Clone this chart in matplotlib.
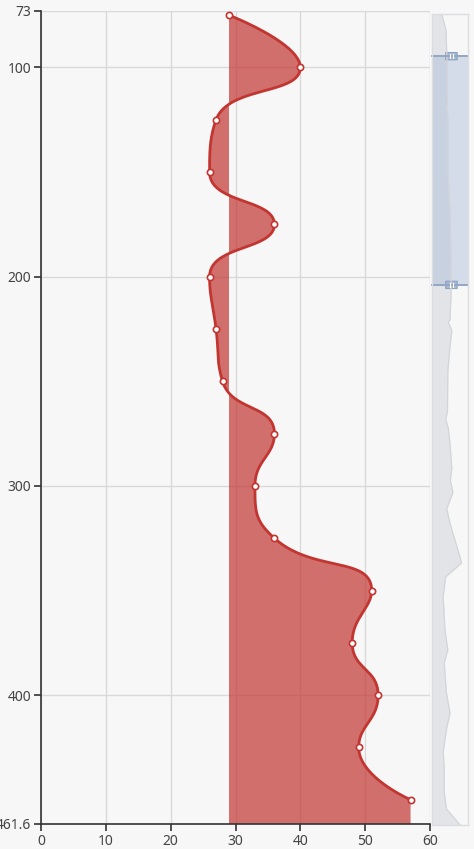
import matplotlib
matplotlib.use("Agg")
import matplotlib.pyplot as plt
import numpy as np
from matplotlib.patches import FancyBboxPatch, Rectangle

# main series: value (x) at each depth (y)
depth = [75, 100, 125, 150, 175, 200, 225, 250, 275, 300, 325, 350, 375, 400, 425, 450]
value = [29, 40, 27, 26, 36, 26, 27, 28, 36, 33, 36, 51, 48, 52, 49, 57]

y_min, y_max = 73, 461.6
y_ticks = [73, 100, 200, 300, 400, 461.6]
y_tick_labels = ["73", "100", "200", "300", "400", "461.6"]
x_ticks = [0, 10, 20, 30, 40, 50, 60]

# data shadow in the zoom slider: position down the slider (0..1), width in percent
shadow_pos = [0.0, 0.02, 0.048, 0.11, 0.115, 0.125, 0.19, 0.245, 0.307, 0.344, 0.377,
              0.38, 0.39, 0.41, 0.44, 0.49, 0.50, 0.51, 0.53, 0.56, 0.575, 0.59, 0.61,
              0.628, 0.67, 0.677, 0.694, 0.718, 0.76, 0.784, 0.80, 0.837, 0.862, 0.88,
              0.91, 0.93, 0.96, 0.98, 1.0]
shadow_pct = [27, 39, 41, 43, 40, 44, 44, 50, 53, 53, 50,
              45, 55, 50, 44, 43, 38, 45, 50, 55, 51, 58, 41,
              50, 78, 82, 38, 31, 36, 44, 34, 40, 50, 41,
              31, 34, 34, 40, 78]
window = (0.052, 0.334)

RED = "#c23531"
AXIS = "#333333"
GRID = "#d9d9d9"
BG = "#f7f7f7"


def smooth_curve(px, py, smooth=0.5, n=40):
    # echarts-style bezier smoothing (with extreme constraint), in display space
    pts = np.column_stack([px, py])
    out = [pts[0]]
    cp0 = pts[0].copy()
    t = np.linspace(0, 1, n)[1:, None]
    for i in range(1, len(pts)):
        p = pts[i]
        prev = pts[i - 1]
        if i == len(pts) - 1:
            cp1 = p.copy()
            next_cp0 = p.copy()
        else:
            nxt = pts[i + 1]
            v = nxt - prev
            len_prev = np.hypot(*(p - prev))
            len_next = np.hypot(*(nxt - p))
            ratio = len_next / (len_next + len_prev)
            next_cp0 = p + v * smooth * ratio
            next_cp0 = np.minimum(next_cp0, np.maximum(nxt, p))
            next_cp0 = np.maximum(next_cp0, np.minimum(nxt, p))
            v = next_cp0 - p
            cp1 = p - v * len_prev / len_next
            cp1 = np.minimum(cp1, np.maximum(prev, p))
            cp1 = np.maximum(cp1, np.minimum(prev, p))
            v = p - cp1
            next_cp0 = p + v * len_next / len_prev
        seg = ((1 - t) ** 3) * prev + 3 * ((1 - t) ** 2) * t * cp0 \
            + 3 * (1 - t) * t ** 2 * cp1 + t ** 3 * p
        out.extend(seg)
        cp0 = next_cp0
    return np.array(out)


fig = plt.figure(figsize=(4.74, 8.49), dpi=100, facecolor=BG)
ax = fig.add_axes([41 / 474, 25 / 849, 389 / 474, 813 / 849])
ax.set_facecolor(BG)
ax.set_xlim(0, 60)
ax.set_ylim(y_max, y_min)

ax.set_xticks(x_ticks)
ax.set_yticks(y_ticks)
ax.set_yticklabels(y_tick_labels)
ax.grid(True, color=GRID, linewidth=1)
ax.set_axisbelow(True)
for side in ["top", "right"]:
    ax.spines[side].set_visible(False)
for side in ["left", "bottom"]:
    ax.spines[side].set_color(AXIS)
    ax.spines[side].set_linewidth(1.2)
ax.tick_params(colors=AXIS, labelcolor="#444444", labelsize=10, length=5, width=1.2,
               direction="out", pad=2)
for lab in ax.get_xticklabels() + ax.get_yticklabels():
    lab.set_family(["Noto Sans", "DejaVu Sans"])

# smooth line computed in pixel space, then mapped back to data
disp = ax.transData.transform(np.column_stack([value, depth]))
curve_disp = smooth_curve(disp[:, 0], disp[:, 1])
curve = ax.transData.inverted().transform(curve_disp)

poly_x = np.concatenate([curve[:, 0], [value[-1], value[0]]])
poly_y = np.concatenate([curve[:, 1], [y_max, y_max]])
ax.fill(poly_x, poly_y, color=RED, alpha=0.7, linewidth=0, zorder=2)
ax.plot(curve[:, 0], curve[:, 1], color=RED, linewidth=2, zorder=3)
ax.plot(value, depth, linestyle="none", marker="o", markersize=4.5,
        markerfacecolor="white", markeredgecolor=RED, markeredgewidth=1.2, zorder=4,
        clip_on=False)

# zoom slider on the right
sl = fig.add_axes([432 / 474, 24 / 849, 36 / 474, 811 / 849])
sl.set_xlim(0, 100)
sl.set_ylim(1, 0)
sl.set_facecolor("none")
sl.set_xticks([])
sl.set_yticks([])
for sp in sl.spines.values():
    sp.set_color("#dcdde0")
    sp.set_linewidth(1)

sl.fill_betweenx(shadow_pos, 0, shadow_pct, color="#e3e4e7", linewidth=0)
sl.plot(shadow_pct, shadow_pos, color="#d3d5d9", linewidth=0.9)
sl.add_patch(Rectangle((0, window[0]), 100, window[1] - window[0],
                       facecolor="#a9bcd6", alpha=0.45, linewidth=0))
for w in window:
    sl.plot([0, 100], [w, w], color="#93a7c3", linewidth=1.4, clip_on=False)
    sl.add_patch(FancyBboxPatch((38, w - 0.0045), 32, 0.009,
                                boxstyle="round,pad=0,rounding_size=0.002",
                                facecolor="#a8b9d1", edgecolor="#8ea3c1",
                                linewidth=0.8, mutation_aspect=0.05, clip_on=False))
    for xx in (49, 59):
        sl.plot([xx, xx], [w - 0.0028, w + 0.0028], color="white", linewidth=0.8,
                clip_on=False)

fig.savefig("out.png", dpi=100, facecolor=BG)
